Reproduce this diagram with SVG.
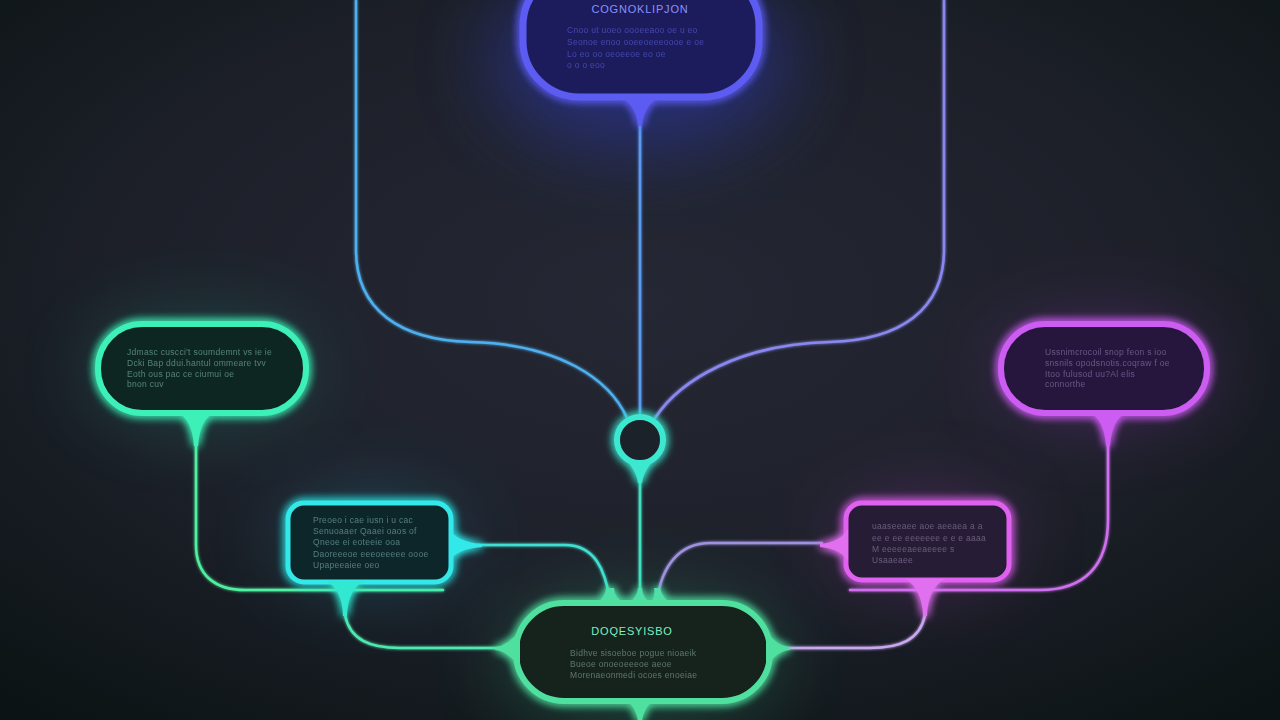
<svg xmlns="http://www.w3.org/2000/svg" width="1280" height="720" viewBox="0 0 1280 720">
<defs>
<radialGradient id="bg" cx="50%" cy="42%" r="75%">
<stop offset="0" stop-color="#252834"/>
<stop offset="0.55" stop-color="#1d2029"/>
<stop offset="1" stop-color="#0b1314"/>
</radialGradient>
<filter id="glow" x="-30%" y="-30%" width="160%" height="160%">
<feGaussianBlur in="SourceGraphic" stdDeviation="5" result="b"/>
<feMerge><feMergeNode in="b"/><feMergeNode in="b"/><feMergeNode in="SourceGraphic"/></feMerge>
</filter>
<filter id="soft" x="-10%" y="-10%" width="120%" height="120%">
<feGaussianBlur in="SourceGraphic" stdDeviation="1.5" result="b"/>
<feMerge><feMergeNode in="b"/><feMergeNode in="SourceGraphic"/></feMerge>
</filter>
<filter id="halo" x="-100%" y="-100%" width="300%" height="300%">
<feGaussianBlur stdDeviation="40"/>
</filter>
<style>
.line{fill:none;stroke-width:2.5;stroke-linecap:round}
.title{font-family:"Liberation Sans",Arial,sans-serif;font-size:11px;letter-spacing:0.8px}
.body{font-family:"Liberation Sans",Arial,sans-serif;font-size:8.5px;letter-spacing:0.3px;opacity:0.5}
</style>
</defs>
<rect width="1280" height="720" fill="url(#bg)"/>
<ellipse cx="640" cy="60" rx="150" ry="90" fill="#3040d0" opacity="0.45" filter="url(#halo)"/>
<ellipse cx="640" cy="660" rx="140" ry="60" fill="#30c080" opacity="0.3" filter="url(#halo)"/>
<ellipse cx="200" cy="370" rx="110" ry="50" fill="#20c0a0" opacity="0.25" filter="url(#halo)"/>
<ellipse cx="1105" cy="370" rx="110" ry="50" fill="#b040e0" opacity="0.25" filter="url(#halo)"/>
<ellipse cx="370" cy="540" rx="90" ry="45" fill="#20b0d0" opacity="0.25" filter="url(#halo)"/>
<ellipse cx="928" cy="540" rx="90" ry="45" fill="#c040d0" opacity="0.25" filter="url(#halo)"/>

<g id="connectors" filter="url(#soft)">
<path class="line" stroke="#4fb0f0" d="M356,0 L356,250 C356,310 400,340 470,342 C560,344 610,380 627,418"/>
<path class="line" stroke="#8a88f0" d="M944,0 L944,250 C944,310 900,340 830,342 C740,344 680,380 655,418"/>
<path class="line" stroke="#5a9af0" d="M640,120 L640,414"/>
<path class="line" stroke="#40e0c0" stroke-width="3" d="M640,478 L640,600"/>
<path class="line" stroke="#50f0a0" stroke-width="3" d="M196,440 L196,545 C196,575 215,590 245,590 L443,590"/>
<path class="line" stroke="#40e0d0" d="M478,545 L565,545 C595,545 605,570 610,600"/>
<path class="line" stroke="#50e8b0" stroke-width="3" d="M345,615 C350,640 370,648 400,648 L500,648"/>
<path class="line" stroke="#d070f0" stroke-width="3" d="M1108,440 L1108,520 C1108,565 1085,590 1040,590 L850,590"/>
<path class="line" stroke="#a090e0" d="M822,543 L710,543 C680,543 662,565 657,600"/>
<path class="line" stroke="#c8a8f0" stroke-width="3" d="M925,615 C920,640 900,648 870,648 L780,648"/>
</g>

<g id="node-top" filter="url(#glow)">
<rect x="523" y="-30" width="236" height="127" rx="56" fill="#1c1f5c" stroke="#5c5cf2" stroke-width="7"/>
<path d="M612,94 Q636,100 638,126 L642,126 Q644,100 668,94 Z" fill="#5c5cf2"/>
</g>
<g id="node-top-text">
<text class="title" x="640" y="13" text-anchor="middle" fill="#8a90ff">COGNOKLIPJON</text>
<text class="body" fill="#6a70ff" x="567" y="33">Cnoo ut uoeo oooeeaoo oe u eo</text>
<text class="body" fill="#6a70ff" x="567" y="45">Seonoe enoo ooeeoeeeoooe e oe</text>
<text class="body" fill="#6a70ff" x="567" y="57">Lo eo oo oeoeeoe eo oe</text>
<text class="body" fill="#6a70ff" x="567" y="68">o o o eoo</text>
</g>

<g id="node-hub" filter="url(#glow)">
<circle cx="640" cy="440" r="23" fill="#1d2129" stroke="#3ee8d0" stroke-width="6"/>
<path d="M618,453 Q636,467 638,483 L642,483 Q644,467 662,453 Q640,471 618,453 Z" fill="#3ee8d0"/>
</g>

<g id="node-left">
<g filter="url(#glow)">
<rect x="98" y="324" width="208" height="89" rx="44" fill="#0f2624" stroke="#3ef0b8" stroke-width="6"/>
<path d="M176,412 Q192,418 194,446 L198,446 Q200,418 216,412 Z" fill="#3ef0b8"/>
</g>
<text class="body" fill="#9adac8" x="127" y="355">Jdmasc cuscci't soumdemnt vs   ie ie</text>
<text class="body" fill="#9adac8" x="127" y="366">Dcki Bap ddui.hantul ommeare tvv</text>
<text class="body" fill="#9adac8" x="127" y="377">Eoth ous pac ce ciumui oe</text>
<text class="body" fill="#9adac8" x="127" y="387">bnon cuv</text>
</g>

<g id="node-right">
<g filter="url(#glow)">
<rect x="1001" y="324" width="206" height="89" rx="44" fill="#28183c" stroke="#cc5cf2" stroke-width="6"/>
<path d="M1088,412 Q1104,418 1106,446 L1110,446 Q1112,418 1128,412 Z" fill="#cc5cf2"/>
</g>
<text class="body" fill="#b090d0" x="1045" y="355">Ussnimcrocoil snop feon s ioo</text>
<text class="body" fill="#b090d0" x="1045" y="366">snsnils opodsnotis.coqraw f oe</text>
<text class="body" fill="#b090d0" x="1045" y="377">Itoo fulusod uu?Al elis</text>
<text class="body" fill="#b090d0" x="1045" y="387">connorthe</text>
</g>

<g id="node-mid-left">
<g filter="url(#glow)">
<rect x="288" y="503" width="163" height="79" rx="16" fill="#10262c" stroke="#30e8e8" stroke-width="5"/>
<path d="M449,528 Q456,542 482,544 L482,547 Q456,549 449,562 Z" fill="#30e8e8"/>
<path d="M325,581 Q342,588 343,616 L347,616 Q348,588 365,581 Z" fill="#30e8d0"/>
</g>
<text class="body" fill="#9ad0d0" x="313" y="523">Preoeo i cae iusn i u cac</text>
<text class="body" fill="#9ad0d0" x="313" y="534">Senuoaaer  Qaaei oaos of</text>
<text class="body" fill="#9ad0d0" x="313" y="545">Qneoe ei eoteeie ooa</text>
<text class="body" fill="#9ad0d0" x="313" y="557">Daoreeeoe eeeoeeeee oooe</text>
<text class="body" fill="#9ad0d0" x="313" y="568">Upapeeaiee oeo</text>
</g>

<g id="node-mid-right">
<g filter="url(#glow)">
<rect x="846" y="503" width="163" height="77" rx="16" fill="#281a36" stroke="#e060f0" stroke-width="5"/>
<path d="M848,528 Q842,542 820,544 L820,547 Q842,549 848,562 Z" fill="#e070f0"/>
<path d="M905,579 Q922,588 923,616 L927,616 Q928,588 945,579 Z" fill="#e070f0"/>
</g>
<text class="body" fill="#b098c8" x="872" y="529">uaaseeaee aoe aeeaea  a a</text>
<text class="body" fill="#b098c8" x="872" y="541">ee e ee eeeeeee e e e aaaa</text>
<text class="body" fill="#b098c8" x="872" y="552">M eeeeeaeeaeeee s</text>
<text class="body" fill="#b098c8" x="872" y="563">Usaaeaee</text>
</g>

<g id="node-bottom">
<g filter="url(#glow)">
<path d="M596,604 Q606,596 606,588 L614,588 Q614,598 626,604 Z M628,604 Q638,596 638,588 L642,588 Q642,598 652,604 Z M650,604 Q656,596 654,588 L660,588 Q662,598 672,604 Z" fill="#50e0a8"/>
<rect x="516" y="603" width="254" height="98" rx="48" fill="#16231d" stroke="#50e0a0" stroke-width="6"/>
<path d="M520,630 Q508,646 495,647 L495,650 Q508,651 520,668 Z" fill="#50e0a0"/>
<path d="M766,630 Q776,646 790,647 L790,650 Q776,651 766,668 Z" fill="#50e0a0"/>
<path d="M622,699 Q636,704 638,722 L642,722 Q644,704 658,699 Z" fill="#50e0a0"/>
</g>
<text class="title" x="632" y="635" text-anchor="middle" fill="#7ff0c0">DOQESYISBO</text>
<text class="body" fill="#a0c8b8" x="570" y="656">Bidhve sisoeboe pogue nioaeik</text>
<text class="body" fill="#a0c8b8" x="570" y="667">Bueoe onoeoeeeoe aeoe</text>
<text class="body" fill="#a0c8b8" x="570" y="678">Morenaeonmedi ocoes enoeiae</text>
</g>
</svg>
